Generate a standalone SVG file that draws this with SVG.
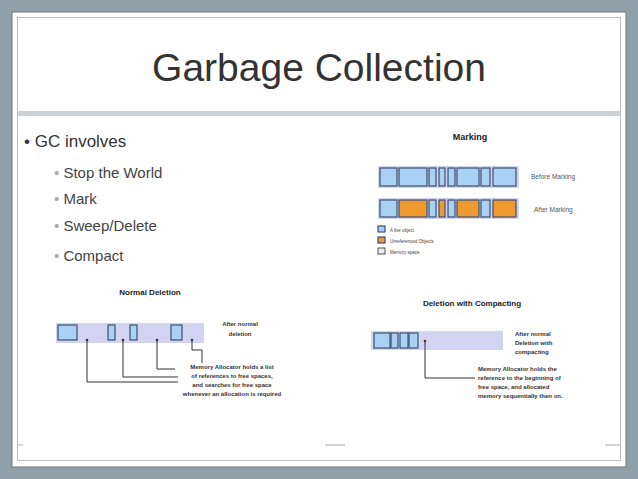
<svg xmlns="http://www.w3.org/2000/svg" width="638" height="479" viewBox="0 0 638 479">
<style>
text{font-family:"Liberation Sans",Arial,sans-serif}
.b{fill:#a9d1f3;stroke:#3b4f70;stroke-width:1.2}
.o{fill:#ef9a2e;stroke:#3b4f70;stroke-width:1.2}
.bar{fill:#d3d4f3}
.s{font-size:6px;font-weight:bold;fill:#333}
.l{fill:none;stroke:#333;stroke-width:1}
.sub{font-size:15px;fill:#444}
</style>
<rect width="638" height="479" fill="#8fa0ab"/>
<rect x="12" y="12" width="614" height="455" fill="#fff" stroke="#6b7880" stroke-width="1"/>
<rect x="17.5" y="17.5" width="603" height="443" fill="none" stroke="#bdbdbd"/>
<rect x="18" y="111" width="602" height="5" fill="#cdd2d4"/>
<g id="bottom-marks" stroke="#aaa"><line x1="18" y1="445" x2="23" y2="445"/><line x1="325" y1="445" x2="345" y2="445"/><line x1="605" y1="445" x2="620" y2="445"/></g>
<text x="319" y="81" font-size="39" text-anchor="middle" fill="#333">Garbage Collection</text>
<g id="bullets">
<text x="24" y="147" font-size="17" fill="#333">• GC involves</text>
<text x="54" y="178" class="sub"><tspan fill="#aaa">•</tspan> Stop the World</text>
<text x="54" y="204" class="sub"><tspan fill="#aaa">•</tspan> Mark</text>
<text x="54" y="231" class="sub"><tspan fill="#aaa">•</tspan> Sweep/Delete</text>
<text x="54" y="261" class="sub"><tspan fill="#aaa">•</tspan> Compact</text>
</g>
<g id="marking">
<text x="470" y="140" font-size="9" font-weight="bold" text-anchor="middle" fill="#222">Marking</text>
<rect class="bar" x="378" y="166" width="141" height="22"/>
<rect class="b" x="380" y="168" width="17" height="18"/><rect class="b" x="399" y="168" width="28" height="18"/><rect class="b" x="429" y="168" width="7" height="18"/><rect class="b" x="439" y="168" width="6" height="18"/><rect class="b" x="448" y="168" width="7" height="18"/><rect class="b" x="457" y="168" width="22" height="18"/><rect class="b" x="481" y="168" width="9" height="18"/><rect class="b" x="493" y="168" width="23" height="18"/>
<rect class="bar" x="378" y="198" width="141" height="21"/>
<rect class="b" x="380" y="200" width="17" height="17"/><rect class="o" x="399" y="200" width="28" height="17"/><rect class="b" x="429" y="200" width="7" height="17"/><rect class="o" x="439" y="200" width="6" height="17"/><rect class="b" x="448" y="200" width="7" height="17"/><rect class="o" x="457" y="200" width="22" height="17"/><rect class="b" x="481" y="200" width="9" height="17"/><rect class="o" x="493" y="200" width="23" height="17"/>
<text x="531" y="179" font-size="6.5" fill="#555">Before Marking</text>
<text x="534" y="212" font-size="6.5" fill="#555">After Marking</text>
<rect class="b" x="378" y="226" width="7" height="6"/><rect class="o" x="378" y="237" width="7" height="6"/><rect x="378" y="248" width="7" height="6" fill="#eee" stroke="#555"/>
<text x="390" y="232" font-size="4.5" fill="#444">A live object</text>
<text x="390" y="243" font-size="4.5" fill="#444">Unreferenced Objects</text>
<text x="390" y="254" font-size="4.5" fill="#444">Memory space</text>
</g>
<g id="normal-deletion">
<text x="150" y="295" font-size="8" font-weight="bold" text-anchor="middle" fill="#222">Normal Deletion</text>
<rect class="bar" x="56" y="323" width="148" height="20"/>
<rect class="b" x="58" y="325" width="19" height="15"/><rect class="b" x="108" y="325" width="7" height="15"/><rect class="b" x="130" y="325" width="7" height="15"/><rect class="b" x="171" y="325" width="11" height="15"/>
<text x="240" y="326" class="s" text-anchor="middle">After normal</text>
<text x="240" y="336" class="s" text-anchor="middle">deletion</text>
<text x="232" y="369" class="s" text-anchor="middle">Memory Allocator holds a list</text>
<text x="232" y="378" class="s" text-anchor="middle">of references to free spaces,</text>
<text x="232" y="387" class="s" text-anchor="middle">and searches for free space</text>
<text x="232" y="396" class="s" text-anchor="middle">whenever an allocation is required</text>
</g>
<g id="compacting">
<text x="472" y="306" font-size="8" font-weight="bold" text-anchor="middle" fill="#222">Deletion with Compacting</text>
<rect class="bar" x="371" y="331" width="132" height="19"/>
<rect class="b" x="374" y="333" width="16" height="15"/><rect class="b" x="391" y="333" width="7" height="15"/><rect class="b" x="400" y="333" width="8" height="15"/><rect class="b" x="409" y="333" width="9" height="15"/>
<text x="515" y="336" class="s">After normal</text>
<text x="515" y="345" class="s">Deletion with</text>
<text x="515" y="354" class="s">compacting</text>
<text x="478" y="371" class="s" font-size="5">Memory Allocator holds the</text>
<text x="478" y="380" class="s" font-size="5">reference to the beginning of</text>
<text x="478" y="389" class="s" font-size="5">free space, and allocated</text>
<text x="478" y="398" class="s" font-size="5">memory sequentially then on.</text>
</g>
<g id="connectors">
<path class="l" d="M87 340V382H178M123 340V377H178M157 340V369H175M192 340V350H202V363"/>
<path class="l" d="M425 341V378H475"/>
<g fill="#333"><circle cx="87" cy="340" r="1.3"/><circle cx="123" cy="340" r="1.3"/><circle cx="157" cy="340" r="1.3"/><circle cx="192" cy="340" r="1.3"/><circle cx="425" cy="341" r="1.3"/></g>
</g>
</svg>
